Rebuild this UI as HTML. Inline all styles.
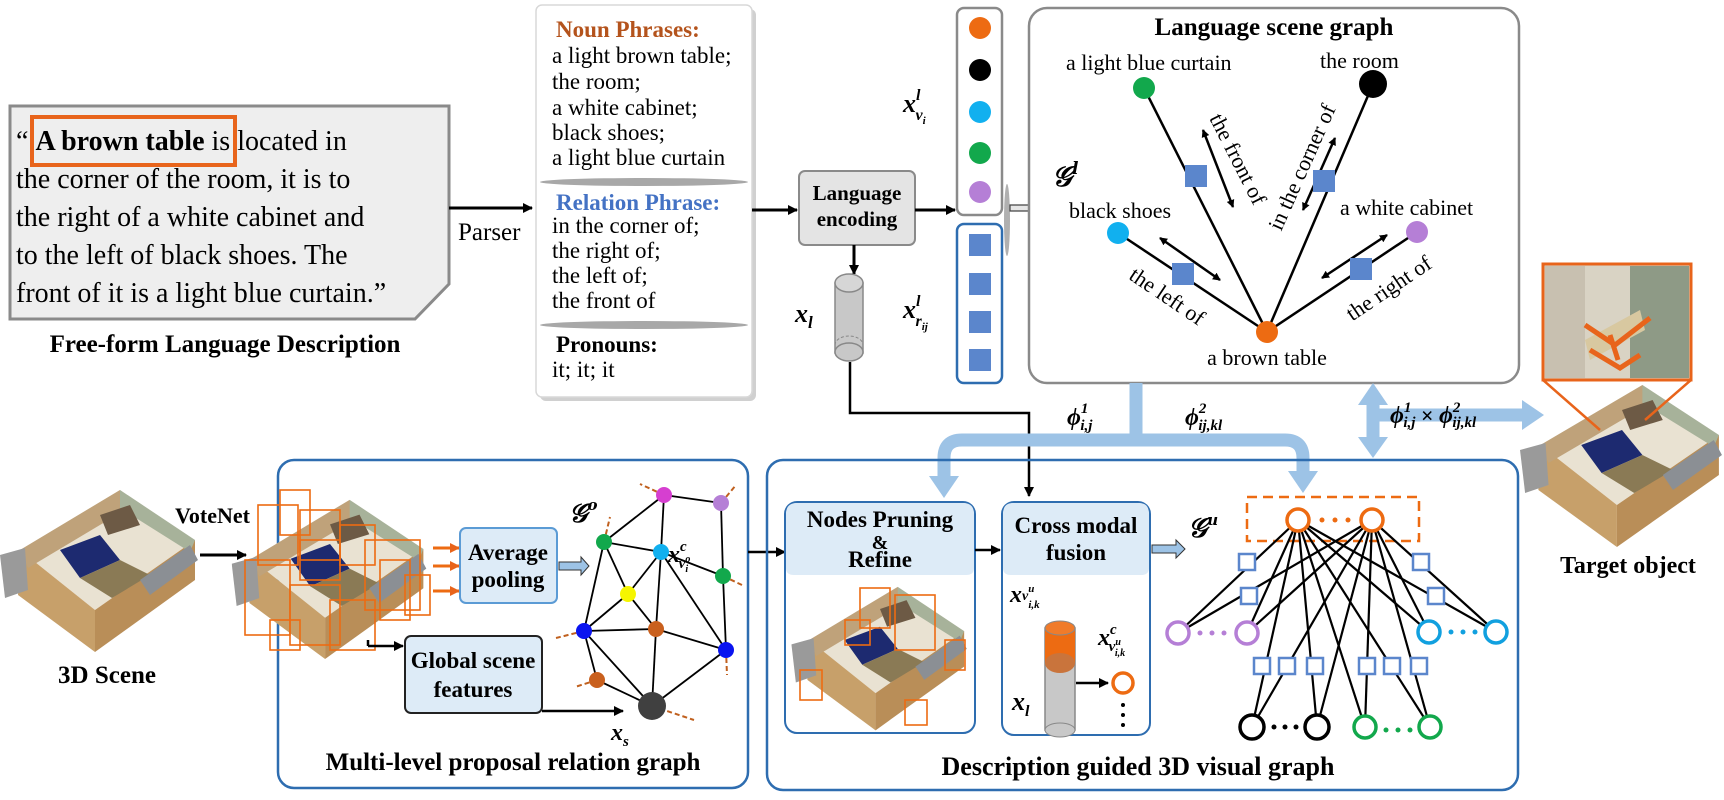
<!DOCTYPE html>
<html><head><meta charset="utf-8"><style>
html,body{margin:0;padding:0;background:#fff;}
svg{display:block;font-family:"Liberation Serif",serif;}
.b{font-weight:bold;}
.m{font-style:italic;font-weight:bold;}
</style></head><body>
<svg width="1724" height="800" viewBox="0 0 1724 800" xmlns="http://www.w3.org/2000/svg">
<defs>
<marker id="ah" markerWidth="10" markerHeight="10" refX="9" refY="5" orient="auto" markerUnits="userSpaceOnUse"><path d="M0,0 L10,5 L0,10 z" fill="#000"/></marker>
<marker id="ahs" markerWidth="8" markerHeight="8" refX="7" refY="4" orient="auto" markerUnits="userSpaceOnUse"><path d="M0,0 L8,4 L0,8 z" fill="#000"/></marker>
<marker id="aho" markerWidth="10" markerHeight="10" refX="9" refY="5" orient="auto" markerUnits="userSpaceOnUse"><path d="M0,0 L10,5 L0,10 z" fill="#e8641b"/></marker>
<marker id="ahs2" markerWidth="8" markerHeight="8" refX="1" refY="4" orient="auto" markerUnits="userSpaceOnUse"><path d="M8,0 L0,4 L8,8 z" fill="#000"/></marker>
<symbol id="house" viewBox="0 0 200 175">
<polygon points="20,70 120,10 195,60 95,130" fill="#e9e2d2"/>
<polygon points="20,70 95,130 95,172 18,115" fill="#c7a06a"/>
<polygon points="95,130 195,60 195,100 95,172" fill="#b98e58"/>
<polygon points="20,70 120,10 125,30 28,88" fill="#bfa27a"/>
<polygon points="120,10 195,60 190,72 120,28" fill="#a7b29a"/>
<polygon points="60,70 100,55 120,80 80,98" fill="#1d2a70"/>
<polygon points="80,98 120,80 150,95 112,118" fill="#8a7a55"/>
<polygon points="0,75 25,68 28,110 5,118" fill="#9a9a9a"/>
<polygon points="140,100 190,65 198,80 150,115" fill="#8b8f94"/>
<polygon points="100,35 130,25 140,45 108,55" fill="#6d5a45"/>
</symbol>
</defs>

<polygon points="10,106 449,106 449,284 415,319 10,319" fill="#eeeeee" stroke="#8a8a8a" stroke-width="3"/>
<rect x="32" y="117" width="203" height="48" fill="none" stroke="#e8641b" stroke-width="4"/>
<g font-size="28">
<text x="16" y="150">“ <tspan class="b">A brown table</tspan> is located in</text>
<text x="16" y="188">the corner of the room, it is to</text>
<text x="16" y="226">the right of a white cabinet and</text>
<text x="16" y="264">to the left of black shoes. The</text>
<text x="16" y="302">front of it is a light blue curtain.”</text>
</g>
<text x="225" y="352" font-size="25" class="b" text-anchor="middle">Free-form Language Description</text>

<line x1="449" y1="208" x2="532" y2="208" stroke="#000" stroke-width="3" marker-end="url(#ah)"/>
<text x="458" y="240" font-size="25">Parser</text>

<rect x="540" y="9" width="216" height="392" rx="6" fill="#d0d0d0"/>
<rect x="536" y="5" width="216" height="392" rx="6" fill="#fff" stroke="#d8d8d8" stroke-width="1.5"/>
<g font-size="23">
<text x="556" y="37" class="b" fill="#b4531c">Noun Phrases:</text>
<text x="552" y="63">a light brown table;</text>
<text x="552" y="89">the room;</text>
<text x="552" y="115">a white cabinet;</text>
<text x="552" y="140">black shoes;</text>
<text x="552" y="165">a light blue curtain</text>
<ellipse cx="644" cy="182" rx="104" ry="4" fill="#a8a8a8"/>
<text x="556" y="210" class="b" fill="#4472c4">Relation Phrase:</text>
<text x="552" y="233">in the corner of;</text>
<text x="552" y="258">the right of;</text>
<text x="552" y="283">the left of;</text>
<text x="552" y="308">the front of</text>
<ellipse cx="644" cy="325" rx="104" ry="4" fill="#a8a8a8"/>
<text x="556" y="352" class="b">Pronouns:</text>
<text x="552" y="377">it; it; it</text>
</g>

<line x1="752" y1="210" x2="797" y2="210" stroke="#000" stroke-width="3" marker-end="url(#ah)"/>
<rect x="799" y="171" width="116" height="74" rx="6" fill="#e4e4e4" stroke="#8a8a8a" stroke-width="2"/>
<text x="857" y="200" font-size="21" class="b" text-anchor="middle">Language</text>
<text x="857" y="226" font-size="21" class="b" text-anchor="middle">encoding</text>
<line x1="915" y1="210" x2="955" y2="210" stroke="#000" stroke-width="3" marker-end="url(#ah)"/>
<line x1="854" y1="245" x2="854" y2="274" stroke="#000" stroke-width="3" marker-end="url(#ah)"/>
<rect x="835" y="283" width="28" height="70" fill="#c8c8c8" stroke="#888" stroke-width="1.5"/>
<ellipse cx="849" cy="283" rx="14" ry="9" fill="#d6d6d6" stroke="#888" stroke-width="1.5"/>
<ellipse cx="849" cy="352" rx="14" ry="9" fill="#c8c8c8" stroke="#888" stroke-width="1.5"/>
<path d="M835,345 A14,9 0 0 1 863,345" fill="none" stroke="#888" stroke-dasharray="3,2"/>
<text x="795" y="322" font-size="26" class="m">x<tspan font-size="17" dy="6">l</tspan></text>
<polyline points="850,362 850,413 1029,413 1029,496" fill="none" stroke="#000" stroke-width="2.5" marker-end="url(#ah)"/>

<text x="903" y="112" font-size="26" class="m">x<tspan font-size="16" dy="-12">l</tspan><tspan font-size="16" dx="-5" dy="20">v</tspan><tspan font-size="11" dy="4">i</tspan></text>
<rect x="957" y="8" width="45" height="207" rx="7" fill="#fff" stroke="#8a8a8a" stroke-width="2.5"/>
<circle cx="980" cy="28" r="11" fill="#ed6b12"/>
<circle cx="980" cy="70" r="11" fill="#000"/>
<circle cx="980" cy="112" r="11" fill="#11b0ef"/>
<circle cx="980" cy="153" r="11" fill="#12a84c"/>
<circle cx="980" cy="192" r="11" fill="#b57fd6"/>
<text x="903" y="318" font-size="26" class="m">x<tspan font-size="16" dy="-12">l</tspan><tspan font-size="16" dx="-5" dy="20">r</tspan><tspan font-size="11" dy="4">ij</tspan></text>
<rect x="957" y="224" width="45" height="159" rx="7" fill="#fff" stroke="#2e6db0" stroke-width="2.5"/>
<rect x="969" y="234" width="22" height="22" fill="#5b86cc"/>
<rect x="969" y="273" width="22" height="22" fill="#5b86cc"/>
<rect x="969" y="311" width="22" height="22" fill="#5b86cc"/>
<rect x="969" y="349" width="22" height="22" fill="#5b86cc"/>
<ellipse cx="1007" cy="220" rx="3" ry="36" fill="#b0b0b0"/>
<path d="M1010,205 h28 v-5 l10,8 l-10,8 v-5 h-28 z" fill="#e6e6e6" stroke="#444" stroke-width="1.2"/>

<rect x="1029" y="8" width="490" height="375" rx="18" fill="#fff" stroke="#8a8a8a" stroke-width="2.5"/>
<text x="1274" y="35" font-size="25" class="b" text-anchor="middle">Language scene graph</text>
<text x="1052" y="186" font-size="28" class="m" font-family="DejaVu Serif">𝒢<tspan font-size="17" dy="-12">l</tspan></text>
<g stroke="#000" stroke-width="2.5">
<line x1="1144" y1="88" x2="1267" y2="332"/>
<line x1="1373" y1="84" x2="1267" y2="332"/>
<line x1="1118" y1="233" x2="1267" y2="332"/>
<line x1="1417" y1="232" x2="1267" y2="332"/>
<line x1="1203" y1="130" x2="1233" y2="207" marker-start="url(#ahs2)" marker-end="url(#ahs)"/>
<line x1="1335" y1="138" x2="1303" y2="210" marker-start="url(#ahs2)" marker-end="url(#ahs)"/>
<line x1="1160" y1="238" x2="1220" y2="280" marker-start="url(#ahs2)" marker-end="url(#ahs)"/>
<line x1="1387" y1="235" x2="1322" y2="278" marker-start="url(#ahs2)" marker-end="url(#ahs)"/>
</g>
<rect x="1185" y="165" width="22" height="22" fill="#5b86cc"/>
<rect x="1313" y="170" width="22" height="22" fill="#5b86cc"/>
<rect x="1172" y="263" width="22" height="22" fill="#5b86cc"/>
<rect x="1350" y="258" width="22" height="22" fill="#5b86cc"/>
<circle cx="1144" cy="88" r="11" fill="#12a84c"/>
<circle cx="1373" cy="84" r="14" fill="#000"/>
<circle cx="1118" cy="233" r="11" fill="#11b0ef"/>
<circle cx="1417" cy="232" r="11" fill="#b57fd6"/>
<circle cx="1267" cy="332" r="11" fill="#ed6b12"/>
<g font-size="22">
<text x="1066" y="70">a light blue curtain</text>
<text x="1320" y="68">the room</text>
<text x="1069" y="218">black shoes</text>
<text x="1340" y="215">a white cabinet</text>
<text x="1267" y="365" text-anchor="middle">a brown table</text>
<text transform="translate(1236,160) rotate(63)" text-anchor="middle" dominant-baseline="middle">the front of</text>
<text transform="translate(1304,168) rotate(-66)" text-anchor="middle" dominant-baseline="middle">in the corner of</text>
<text transform="translate(1166,298) rotate(34)" text-anchor="middle" dominant-baseline="middle">the left of</text>
<text transform="translate(1390,290) rotate(-34)" text-anchor="middle" dominant-baseline="middle">the right of</text>
</g>

<g fill="none" stroke="#9dc3e6" stroke-width="13">
<path d="M1136,383 V440"/>
<path d="M944,480 V458 Q944,440 962,440 H1285 Q1303,440 1303,458 V480"/>
<path d="M1373,400 V440"/>
<path d="M1373,415 H1525"/>
</g>
<polygon points="929,476 959,476 944,498" fill="#9dc3e6"/>
<polygon points="1288,471 1318,471 1303,493" fill="#9dc3e6"/>
<polygon points="1358,437 1388,437 1373,458" fill="#9dc3e6"/>
<polygon points="1358,405 1388,405 1373,383" fill="#9dc3e6"/>
<polygon points="1522,400 1522,430 1544,415" fill="#9dc3e6"/>
<text x="1067" y="425" font-size="24" class="m">ϕ<tspan font-size="15" dy="-12">1</tspan><tspan font-size="15" dx="-8" dy="17">i,j</tspan></text>
<text x="1185" y="425" font-size="24" class="m">ϕ<tspan font-size="15" dy="-12">2</tspan><tspan font-size="15" dx="-8" dy="17">ij,kl</tspan></text>
<text x="1390" y="423" font-size="24" class="m">ϕ<tspan font-size="15" dy="-11">1</tspan><tspan font-size="15" dx="-8" dy="15">i,j</tspan><tspan font-size="22" font-style="normal" dy="-4"> × </tspan>ϕ<tspan font-size="15" dy="-11">2</tspan><tspan font-size="15" dx="-8" dy="15">ij,kl</tspan></text>

<svg x="1520" y="375" width="204" height="175" viewBox="0 0 200 175" preserveAspectRatio="none"><use href="#house"/></svg>
<rect x="1543" y="264" width="148" height="116" fill="#d9d3c4" stroke="#e8641b" stroke-width="3"/>
<rect x="1545" y="266" width="40" height="112" fill="#c8c0b0"/>
<rect x="1630" y="266" width="59" height="112" fill="#8e9a86"/>
<polygon points="1585,340 1640,310 1645,330 1590,360" fill="#d8c8a0"/>
<path d="M1585,325 L1615,345 L1650,318 M1610,335 L1618,360 M1590,350 L1620,368 L1640,355" stroke="#e8641b" stroke-width="5" fill="none"/>
<path d="M1543,380 L1600,430 M1691,380 L1645,420" stroke="#e8641b" stroke-width="2.5"/>
<text x="1628" y="573" font-size="24" class="b" text-anchor="middle">Target object</text>

<svg x="0" y="480" width="200" height="175" viewBox="0 0 200 175"><use href="#house"/></svg>
<text x="107" y="683" font-size="25" class="b" text-anchor="middle">3D Scene</text>
<text x="175" y="523" font-size="22" class="b">VoteNet</text>
<line x1="200" y1="555" x2="246" y2="555" stroke="#000" stroke-width="3" marker-end="url(#ah)"/>

<rect x="278" y="460" width="470" height="328" rx="16" fill="#fff" stroke="#2e6db0" stroke-width="2.5"/>
<svg x="230" y="490" width="200" height="172" viewBox="0 0 200 175"><use href="#house"/></svg>
<g fill="none" stroke="#ed6b12" stroke-width="1.6">
<rect x="258" y="505" width="40" height="60"/><rect x="280" y="490" width="30" height="45"/><rect x="300" y="510" width="40" height="50"/>
<rect x="340" y="525" width="35" height="40"/><rect x="365" y="540" width="55" height="70"/><rect x="380" y="560" width="30" height="60"/>
<rect x="245" y="560" width="45" height="75"/><rect x="290" y="585" width="50" height="60"/><rect x="330" y="600" width="45" height="50"/>
<rect x="300" y="540" width="40" height="40"/><rect x="405" y="575" width="25" height="40"/><rect x="270" y="620" width="30" height="30"/>
</g>
<line x1="433" y1="548" x2="459" y2="548" stroke="#ed6b12" stroke-width="3" marker-end="url(#aho)"/>
<line x1="433" y1="566" x2="459" y2="566" stroke="#ed6b12" stroke-width="3" marker-end="url(#aho)"/>
<line x1="433" y1="591" x2="459" y2="591" stroke="#ed6b12" stroke-width="3" marker-end="url(#aho)"/>
<rect x="460" y="528" width="97" height="75" rx="6" fill="#ddebf7" stroke="#5b9bd5" stroke-width="2"/>
<text x="508" y="560" font-size="23" class="b" text-anchor="middle">Average</text>
<text x="508" y="587" font-size="23" class="b" text-anchor="middle">pooling</text>
<path d="M559,562 h22 v-5 l8,9 l-8,9 v-5 h-22 z" fill="#9dc3e6" stroke="#333" stroke-width="1"/>
<line x1="368" y1="646" x2="403" y2="646" stroke="#000" stroke-width="2.5" marker-end="url(#ah)"/>
<line x1="368" y1="640" x2="368" y2="646" stroke="#000" stroke-width="2.5"/>
<rect x="405" y="636" width="137" height="77" rx="6" fill="#ddebf7" stroke="#222" stroke-width="2"/>
<text x="473" y="668" font-size="23" class="b" text-anchor="middle">Global scene</text>
<text x="473" y="697" font-size="23" class="b" text-anchor="middle">features</text>
<line x1="542" y1="711" x2="623" y2="711" stroke="#000" stroke-width="2.5" marker-end="url(#ah)"/>
<text x="569" y="522" font-size="26" class="m" font-family="DejaVu Serif">𝒢<tspan font-size="15" dy="-12">o</tspan></text>
<text x="668" y="562" font-size="24" class="m">x<tspan font-size="15" dy="-11">c</tspan><tspan font-size="15" dx="-8" dy="17">v</tspan><tspan font-size="10" dy="-6">o</tspan><tspan font-size="10" dx="-5" dy="10">i</tspan></text>
<g stroke="#c0601e" stroke-width="2" stroke-dasharray="5,3">
<line x1="664" y1="495" x2="640" y2="484"/><line x1="721" y1="503" x2="736" y2="485"/>
<line x1="604" y1="542" x2="610" y2="517"/><line x1="723" y1="576" x2="742" y2="585"/>
<line x1="584" y1="631" x2="556" y2="638"/><line x1="726" y1="650" x2="727" y2="675"/>
<line x1="597" y1="680" x2="575" y2="687"/><line x1="652" y1="706" x2="694" y2="720"/>
</g>
<g stroke="#000" stroke-width="1.8">
<line x1="664" y1="495" x2="721" y2="503"/><line x1="664" y1="495" x2="604" y2="542"/><line x1="664" y1="495" x2="661" y2="552"/>
<line x1="721" y1="503" x2="723" y2="576"/><line x1="604" y1="542" x2="661" y2="552"/><line x1="604" y1="542" x2="628" y2="594"/>
<line x1="604" y1="542" x2="584" y2="631"/><line x1="661" y1="552" x2="628" y2="594"/><line x1="661" y1="552" x2="656" y2="629"/>
<line x1="661" y1="552" x2="723" y2="576"/><line x1="661" y1="552" x2="726" y2="650"/><line x1="723" y1="576" x2="726" y2="650"/>
<line x1="628" y1="594" x2="584" y2="631"/><line x1="628" y1="594" x2="656" y2="629"/><line x1="584" y1="631" x2="656" y2="629"/>
<line x1="584" y1="631" x2="597" y2="680"/><line x1="584" y1="631" x2="652" y2="706"/><line x1="656" y1="629" x2="652" y2="706"/>
<line x1="656" y1="629" x2="726" y2="650"/><line x1="726" y1="650" x2="652" y2="706"/><line x1="597" y1="680" x2="652" y2="706"/>
</g>
<circle cx="664" cy="495" r="8" fill="#d63fd0"/><circle cx="721" cy="503" r="8" fill="#b57fd6"/>
<circle cx="604" cy="542" r="8" fill="#12a84c"/><circle cx="661" cy="552" r="8" fill="#11b0ef"/>
<circle cx="723" cy="576" r="8" fill="#12a84c"/><circle cx="628" cy="594" r="8" fill="#f5f500"/>
<circle cx="656" cy="629" r="8" fill="#c9601e"/><circle cx="584" cy="631" r="8" fill="#0a14f0"/>
<circle cx="726" cy="650" r="8" fill="#0a14f0"/><circle cx="597" cy="680" r="8" fill="#c9601e"/>
<circle cx="652" cy="706" r="14" fill="#404040"/>
<text x="611" y="740" font-size="24" class="m">x<tspan font-size="15" dy="6">s</tspan></text>
<text x="513" y="770" font-size="25" class="b" text-anchor="middle">Multi-level proposal relation graph</text>

<line x1="748" y1="552" x2="785" y2="552" stroke="#000" stroke-width="2.5" marker-end="url(#ah)"/>
<rect x="767" y="460" width="751" height="330" rx="16" fill="none" stroke="#2e6db0" stroke-width="2.5"/>
<rect x="785" y="502" width="190" height="231" rx="12" fill="#fff" stroke="#2e6db0" stroke-width="2"/>
<path d="M797,503 H963 Q974,503 974,514 V568 Q974,575 966,575 H794 Q786,575 786,568 V514 Q786,503 797,503 z" fill="#ddebf7"/>
<text x="880" y="527" font-size="23" class="b" text-anchor="middle">Nodes Pruning</text>
<text x="880" y="549" font-size="20" class="b" text-anchor="middle">&amp;</text>
<text x="880" y="567" font-size="23" class="b" text-anchor="middle">Refine</text>
<svg x="790" y="578" width="180" height="155" viewBox="0 0 200 175"><use href="#house"/></svg>
<g fill="none" stroke="#ed6b12" stroke-width="1.6">
<rect x="860" y="588" width="30" height="40"/><rect x="895" y="595" width="40" height="55"/><rect x="845" y="620" width="25" height="25"/>
<rect x="800" y="670" width="22" height="30"/><rect x="905" y="700" width="22" height="25"/><rect x="945" y="640" width="20" height="30"/>
</g>
<line x1="975" y1="550" x2="1000" y2="550" stroke="#000" stroke-width="2.5" marker-end="url(#ah)"/>
<rect x="1002" y="502" width="148" height="233" rx="12" fill="#fff" stroke="#2e6db0" stroke-width="2"/>
<path d="M1013,503 H1139 Q1149,503 1149,514 V568 Q1149,575 1141,575 H1011 Q1003,575 1003,568 V514 Q1003,503 1013,503 z" fill="#ddebf7"/>
<text x="1076" y="533" font-size="23" class="b" text-anchor="middle">Cross modal</text>
<text x="1076" y="560" font-size="23" class="b" text-anchor="middle">fusion</text>
<text x="1010" y="602" font-size="24" class="m">x<tspan font-size="14" dy="-2">v</tspan><tspan font-size="11" dy="-8">u</tspan><tspan font-size="11" dx="-6" dy="16">i,k</tspan></text>
<rect x="1045" y="628" width="30" height="102" fill="#c8c8c8" stroke="#888" stroke-width="1.5"/>
<rect x="1045" y="628" width="30" height="35" fill="#ed6b12"/>
<ellipse cx="1060" cy="663" rx="15" ry="10" fill="#c9743c"/>
<ellipse cx="1060" cy="628" rx="15" ry="7" fill="#f07b2a" stroke="#888"/>
<ellipse cx="1060" cy="730" rx="15" ry="7" fill="#c8c8c8" stroke="#888"/>
<text x="1012" y="710" font-size="26" class="m">x<tspan font-size="16" dy="6">l</tspan></text>
<line x1="1076" y1="683" x2="1108" y2="683" stroke="#000" stroke-width="2.5" marker-end="url(#ah)"/>
<circle cx="1123" cy="683" r="10" fill="none" stroke="#ed6b12" stroke-width="3.5"/>
<text x="1098" y="645" font-size="24" class="m">x<tspan font-size="15" dy="-11">c</tspan><tspan font-size="15" dx="-8" dy="17">v</tspan><tspan font-size="10" dy="-6">u</tspan><tspan font-size="10" dx="-6" dy="11">i,k</tspan></text>
<circle cx="1123" cy="705" r="2" fill="#000"/><circle cx="1123" cy="715" r="2" fill="#000"/><circle cx="1123" cy="725" r="2" fill="#000"/>
<path d="M1152,545 h24 v-5 l9,9 l-9,9 v-5 h-24 z" fill="#9dc3e6" stroke="#333" stroke-width="1"/>
<text x="1188" y="537" font-size="27" class="m" font-family="DejaVu Serif">𝒢<tspan font-size="15" dy="-12">u</tspan></text>

<rect x="1247" y="497" width="172" height="44" fill="none" stroke="#ed6b12" stroke-width="2.5" stroke-dasharray="10,6"/>
<g stroke="#000" stroke-width="2.2">
<line x1="1298" y1="520" x2="1178" y2="633"/><line x1="1298" y1="520" x2="1247" y2="633"/><line x1="1298" y1="520" x2="1252" y2="727"/><line x1="1298" y1="520" x2="1317" y2="727"/><line x1="1298" y1="520" x2="1365" y2="727"/><line x1="1298" y1="520" x2="1430" y2="727"/><line x1="1298" y1="520" x2="1429" y2="632"/><line x1="1298" y1="520" x2="1496" y2="632"/>
<line x1="1372" y1="520" x2="1178" y2="633"/><line x1="1372" y1="520" x2="1247" y2="633"/><line x1="1372" y1="520" x2="1252" y2="727"/><line x1="1372" y1="520" x2="1317" y2="727"/><line x1="1372" y1="520" x2="1365" y2="727"/><line x1="1372" y1="520" x2="1430" y2="727"/><line x1="1372" y1="520" x2="1429" y2="632"/><line x1="1372" y1="520" x2="1496" y2="632"/>
</g>
<g fill="#fff" stroke="#5b86cc" stroke-width="2.5">
<rect x="1239" y="554" width="16" height="16"/><rect x="1241" y="588" width="16" height="16"/>
<rect x="1413" y="554" width="16" height="16"/><rect x="1428" y="588" width="16" height="16"/>
<rect x="1254" y="658" width="16" height="16"/><rect x="1279" y="658" width="16" height="16"/><rect x="1307" y="658" width="16" height="16"/>
<rect x="1359" y="658" width="16" height="16"/><rect x="1384" y="658" width="16" height="16"/><rect x="1411" y="658" width="16" height="16"/>
</g>
<g fill="#fff" stroke-width="3.5">
<circle cx="1298" cy="520" r="11" stroke="#ed6b12"/><circle cx="1372" cy="520" r="11" stroke="#ed6b12"/>
<circle cx="1178" cy="633" r="11" stroke="#b57fd6"/><circle cx="1247" cy="633" r="11" stroke="#b57fd6"/>
<circle cx="1429" cy="632" r="11" stroke="#11a0df"/><circle cx="1496" cy="632" r="11" stroke="#11a0df"/>
<circle cx="1252" cy="727" r="12" stroke="#000"/><circle cx="1317" cy="727" r="12" stroke="#000"/>
<circle cx="1365" cy="727" r="11" stroke="#12a84c"/><circle cx="1430" cy="727" r="11" stroke="#12a84c"/>
</g>
<g>
<circle cx="1322" cy="520" r="2.5" fill="#ed6b12"/><circle cx="1335" cy="520" r="2.5" fill="#ed6b12"/><circle cx="1348" cy="520" r="2.5" fill="#ed6b12"/>
<circle cx="1200" cy="633" r="2.5" fill="#b57fd6"/><circle cx="1212" cy="633" r="2.5" fill="#b57fd6"/><circle cx="1224" cy="633" r="2.5" fill="#b57fd6"/>
<circle cx="1451" cy="632" r="2.5" fill="#11a0df"/><circle cx="1463" cy="632" r="2.5" fill="#11a0df"/><circle cx="1475" cy="632" r="2.5" fill="#11a0df"/>
<circle cx="1274" cy="727" r="2.5" fill="#000"/><circle cx="1285" cy="727" r="2.5" fill="#000"/><circle cx="1296" cy="727" r="2.5" fill="#000"/>
<circle cx="1386" cy="730" r="2.5" fill="#12a84c"/><circle cx="1398" cy="730" r="2.5" fill="#12a84c"/><circle cx="1410" cy="730" r="2.5" fill="#12a84c"/>
</g>
<text x="1138" y="775" font-size="26" class="b" text-anchor="middle">Description guided 3D visual graph</text>
</svg>
</body></html>
